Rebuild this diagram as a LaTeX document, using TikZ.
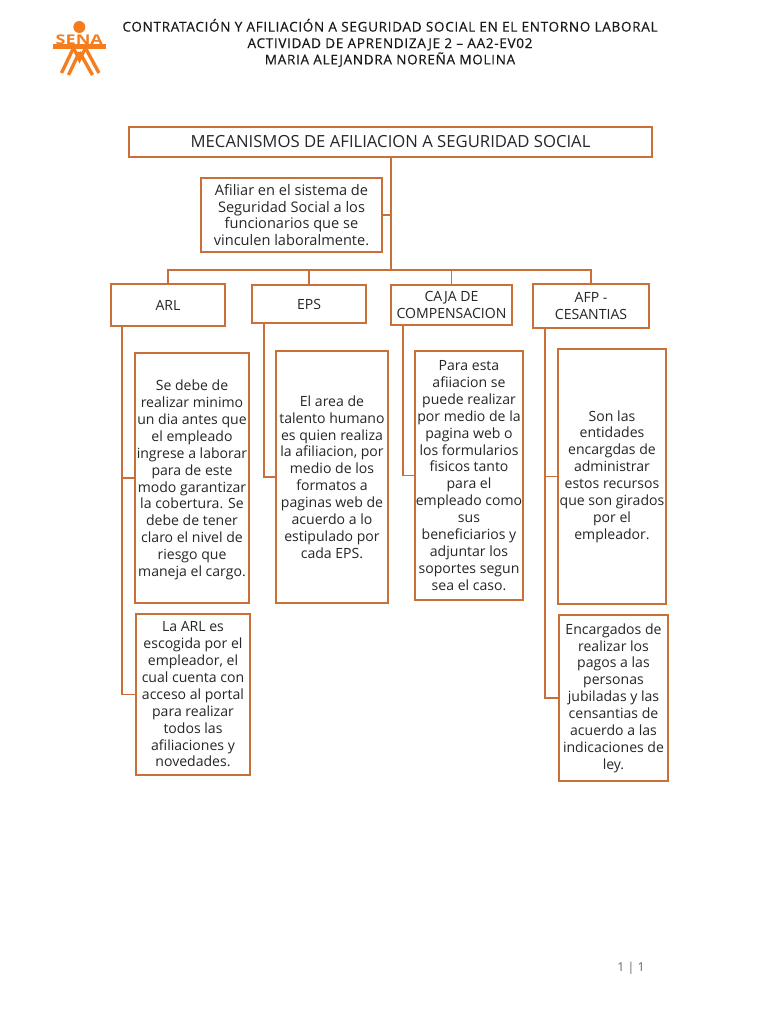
\documentclass[tikz,border=0pt]{standalone}
\usepackage{fontspec}
\setmainfont{Open Sans}
\newfontfamily\headfont[FakeBold=0.35,LetterSpace=5]{Open Sans}
\usetikzlibrary{positioning}
\definecolor{sena}{RGB}{200,112,56}
\definecolor{logo}{RGB}{245,125,30}
\tikzset{
    box/.style={draw=sena, line width=1.4pt, fill=white, align=center, inner sep=0pt, font=\fontsize{8}{9.6}\selectfont, text=black!85},
    link/.style={draw=sena, line width=0.9pt},
    head/.style={font=\headfont\fontsize{7.72}{9.35}\selectfont, align=center, text=black!90},
    limb/.style={draw=logo, line width=1.9pt}
}
\begin{document}
\begin{tikzpicture}[x=0.02cm, y=-0.02cm]
    \useasboundingbox (0, 0) rectangle (768, 1024);

    % Logo
    \fill[logo] (79.3, 27) circle (6);
    \node[font=\bfseries\fontsize{7.6}{8}\selectfont, text=logo, inner sep=0pt, xscale=1.35, transform shape] (sena) at (79.3, 39.5) {SENA};
    \fill[logo] (53, 44.5) rectangle (105.5, 49);
    \draw[limb] (73, 49) -- (61.5, 73);
    \draw[limb] (86, 49) -- (99, 73);
    \draw[limb] (74, 49) -- (79.5, 60) -- (85, 49);
    \draw[limb] (79.5, 52) -- (68.5, 75);
    \draw[limb] (79.5, 52) -- (92.5, 75);

    % Header
    \node[head] (header) at (390, 43) {CONTRATACIÓN Y AFILIACIÓN A SEGURIDAD SOCIAL EN EL ENTORNO LABORAL\\ACTIVIDAD DE APRENDIZAJE 2 – AA2-EV02\\MARIA ALEJANDRA NOREÑA MOLINA};

    % Boxes
    \node[box, minimum width=10.46cm, minimum height=0.6cm, font=\fontsize{9.5}{10}\selectfont] (title) at (390.5, 142) {MECANISMOS DE AFILIACION A SEGURIDAD SOCIAL};
    \node[box, minimum width=3.62cm, minimum height=1.48cm, font=\fontsize{8.3}{9.6}\selectfont] (goal) at (291.5, 215) {Afiliar en el sistema de\\Seguridad Social a los\\funcionarios que se\\vinculen laboralmente.};
    \node[box, minimum width=2.28cm, minimum height=0.84cm] (arl) at (168, 305) {ARL};
    \node[box, minimum width=2.28cm, minimum height=0.76cm] (eps) at (309, 304) {EPS};
    \node[box, minimum width=2.42cm, minimum height=0.8cm] (caja) at (451.5, 305) {CAJA DE\\COMPENSACION};
    \node[box, minimum width=2.32cm, minimum height=0.88cm] (afp) at (591, 306) {AFP -\\CESANTIAS};

    \node[box, minimum width=2.28cm, minimum height=5cm] (arlA) at (192, 478) {\rule{0pt}{8.4pt}Se debe de\\realizar minimo\\un dia antes que\\el empleado\\ingrese a laborar\\para de este\\modo garantizar\\la cobertura. Se\\debe de tener\\claro el nivel de\\riesgo que\\maneja el cargo.};
    \node[box, minimum width=2.28cm, minimum height=3.22cm] (arlB) at (193, 694.5) {La ARL es\\escogida por el\\empleador, el\\cual cuenta con\\acceso al portal\\para realizar\\todos las\\afiliaciones y\\novedades.};
    \node[box, minimum width=2.24cm, minimum height=5.04cm] (epsA) at (332, 477) {El area de\\talento humano\\es quien realiza\\la afiliacion, por\\medio de los\\formatos a\\paginas web de\\acuerdo a lo\\estipulado por\\cada EPS.};
    \node[box, minimum width=2.16cm, minimum height=4.98cm] (cajaA) at (469, 475.5) {Para esta\\afiiacion se\\puede realizar\\por medio de la\\pagina web o\\los formularios\\fisicos tanto\\para el\\empleado como\\sus\\beneficiarios y\\adjuntar los\\soportes segun\\sea el caso.};
    \node[box, minimum width=2.16cm, minimum height=5.1cm] (afpA) at (612, 476.5) {Son las\\entidades\\encargdas de\\administrar\\estos recursos\\que son girados\\por el\\empleador.};
    \node[box, minimum width=2.18cm, minimum height=3.32cm] (afpB) at (613.5, 698) {Encargados de\\realizar los\\pagos a las\\personas\\jubiladas y las\\censantias de\\acuerdo a las\\indicaciones de\\ley.};

    \node[font=\fontsize{7}{8}\selectfont, text=black!60, inner sep=0pt] (page) at (631, 968) {1 | 1};

    % Connectors
    \coordinate (bus) at (391, 270);
    \coordinate (arlStem) at (122, 326);
    \coordinate (epsStem) at (264, 323);
    \coordinate (cajaStem) at (403, 325);
    \coordinate (afpStem) at (545, 328);

    \draw[link] (title.south -| bus) -- (bus);
    \draw[link] (goal.east) -- (goal.east -| bus);
    \draw[link] (arl.north) |- (bus);
    \draw[link] (eps.north) |- (bus);
    \draw[link] (caja.north) |- (bus);
    \draw[link] (afp.north) |- (bus);

    \draw[link] (arlStem) |- (arlA.west);
    \draw[link] (arlStem) |- (arlB.west);
    \draw[link] (epsStem) |- (epsA.west);
    \draw[link] (cajaStem) |- (cajaA.west);
    \draw[link] (afpStem) |- (afpA.west);
    \draw[link] (afpStem) |- (afpB.west);
\end{tikzpicture}
\end{document}
